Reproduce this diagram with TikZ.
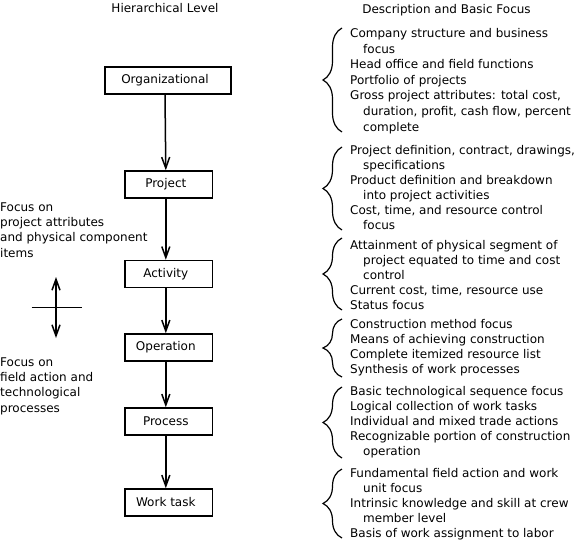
\documentclass[tikz,border=0pt]{standalone}
\usepackage{fontspec}
\setmainfont{DejaVu Sans}
\usetikzlibrary{arrows.meta,decorations.pathreplacing}
\newcommand{\myind}{\hspace*{13pt}}
\begin{document}
\begin{tikzpicture}[x=1pt,y=1pt,
  lvl/.style={draw,line width=1.5pt,minimum width=87.5pt,minimum height=27pt,inner sep=0pt,
    font=\fontsize{12}{14}\selectfont,execute at begin node=\hspace*{-6pt}},
  desc/.style={anchor=west,align=left,inner sep=0pt},
  head/.style={anchor=base,inner sep=0pt,font=\fontsize{12}{14}\selectfont},
  barb/.tip={Straight Barb[length=11pt,width=8pt,line width=1.5pt]},
  arr/.style={line width=1.5pt,-barb},
  br/.style={decorate,decoration={brace,amplitude=19pt},line width=1.2pt}]
\useasboundingbox (0,0) rectangle (581,-541);

% headers
\node[head] (h1) at (165,-12) {Hierarchical Level};
\node[head] (h2) at (446.5,-13.5) {Description and Basic Focus};

% level boxes
\node[lvl,minimum width=126pt] (org) at (168,-80.5) {Organizational};
\node[lvl] (proj) at (168.8,-184.5) {Project};
\node[lvl] (act)  at (168.8,-274) {Activity};
\node[lvl] (oper) at (168.8,-347.5) {Operation};
\node[lvl] (proc) at (168.8,-421.5) {Process};
\node[lvl] (wt)   at (168.8,-502.5) {Work task};

\draw[arr] ([xshift=-3pt]org.south)  -- ([xshift=-3pt]proj.north);
\draw[arr] ([xshift=-3pt]proj.south) -- ([xshift=-3pt]act.north);
\draw[arr] ([xshift=-3pt]act.south)  -- ([xshift=-3pt]oper.north);
\draw[arr] ([xshift=-3pt]oper.south) -- ([xshift=-3pt]proc.north);
\draw[arr] ([xshift=-3pt]proc.south) -- ([xshift=-3pt]wt.north);

% left side
\node[desc,font=\fontsize{12}{15.3}\selectfont] (l1) at (0,-230) {Focus on\\project attributes\\and physical component\\items};
\node[desc,font=\fontsize{12}{15.3}\selectfont] (l2) at (0,-386) {Focus on\\field action and\\technological\\processes};
\coordinate (vt) at (56,-277);
\coordinate (vb) at (56,-338);
\coordinate (hl) at (31.7,-307.7);
\coordinate (hr) at (81.7,-307.7);
\draw[line width=1.5pt,barb-barb] (vt) -- (vb);
\draw[line width=1.2pt] (hl) -- (hr);

% braces
\draw[br] (342,-132) -- (342,-28);
\draw[br] (342,-230) -- (342,-147);
\draw[br] (342,-310) -- (342,-238);
\draw[br] (342,-377) -- (342,-319);
\draw[br] (342,-458) -- (342,-387);
\draw[br] (342,-538) -- (342,-469);

% descriptions
\node[desc,font=\fontsize{12}{15.6}\selectfont] (d1) at (350,-81) {Company structure and business\\\myind focus\\Head office and field functions\\Portfolio of projects\\Gross project attributes: total cost,\\\myind duration, profit, cash flow, percent\\\myind complete};
\node[desc,font=\fontsize{12}{15}\selectfont] (d2) at (350,-188) {Project definition, contract, drawings,\\\myind specifications\\Product definition and breakdown\\\myind into project activities\\Cost, time, and resource control\\\myind focus};
\node[desc,font=\fontsize{12}{15}\selectfont] (d3) at (350,-275) {Attainment of physical segment of\\\myind project equated to time and cost\\\myind control\\Current cost, time, resource use\\Status focus};
\node[desc,font=\fontsize{12}{15}\selectfont] (d4) at (350,-347.5) {Construction method focus\\Means of achieving construction\\Complete itemized resource list\\Synthesis of work processes};
\node[desc,font=\fontsize{12}{15}\selectfont] (d5) at (350,-422) {Basic technological sequence focus\\Logical collection of work tasks\\Individual and mixed trade actions\\Recognizable portion of construction\\\myind operation};
\node[desc,font=\fontsize{12}{15}\selectfont] (d6) at (350,-504) {Fundamental field action and work\\\myind unit focus\\Intrinsic knowledge and skill at crew\\\myind member level\\Basis of work assignment to labor};
\end{tikzpicture}
\end{document}
